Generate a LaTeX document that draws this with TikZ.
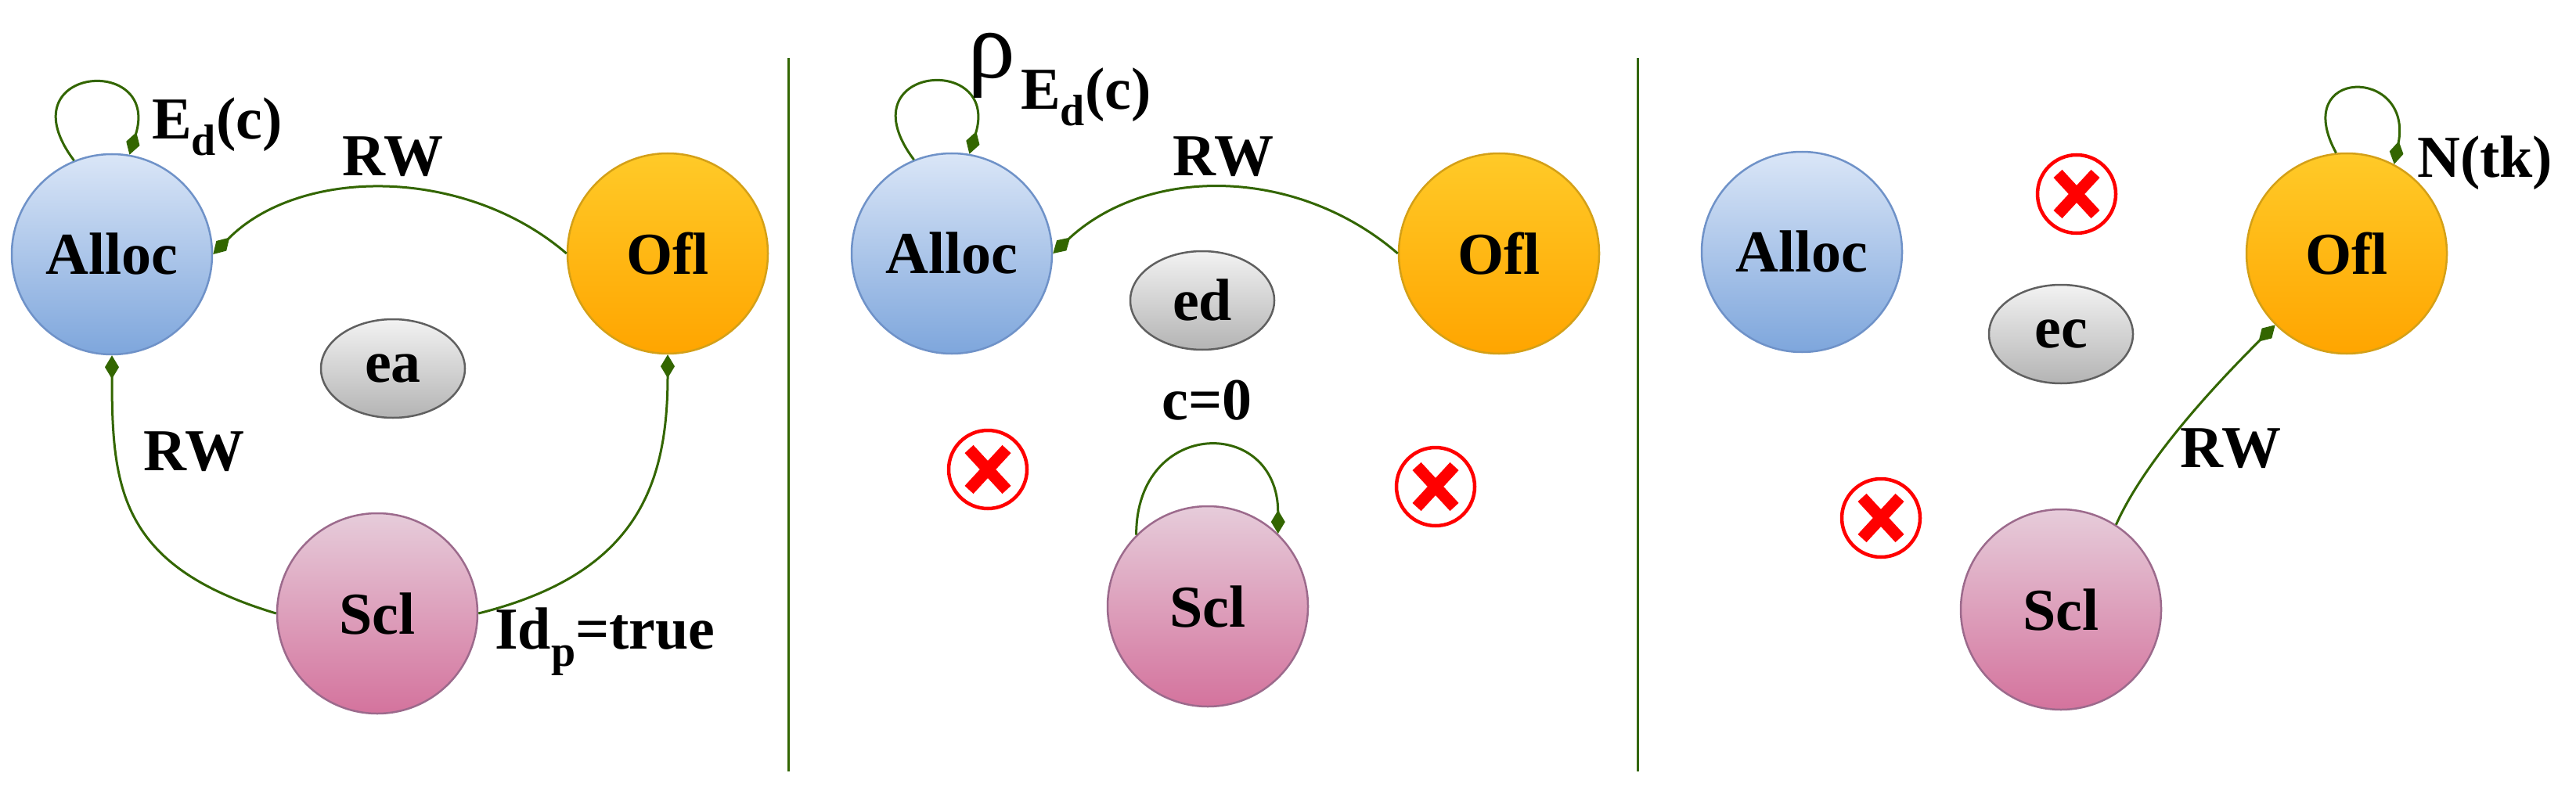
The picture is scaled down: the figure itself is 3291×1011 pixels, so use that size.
\documentclass[tikz,border=0pt]{standalone}
\usepackage{fontspec}
\setmainfont{Liberation Serif}
\usetikzlibrary{arrows.meta,shapes.geometric}
\definecolor{eg}{HTML}{336600}
\begin{document}
\begin{tikzpicture}[x=1pt,y=-1pt,
  st/.style={circle,minimum size=256pt,inner sep=0pt,line width=2.5pt,font=\fontsize{76}{84}\selectfont\bfseries},
  alc/.style={st,draw={rgb,255:red,111;green,146;blue,200},top color={rgb,255:red,218;green,230;blue,247},bottom color={rgb,255:red,126;green,166;blue,220}},
  ofl/.style={st,draw={rgb,255:red,212;green,160;blue,23},top color={rgb,255:red,255;green,202;blue,40},bottom color={rgb,255:red,255;green,165;blue,0}},
  scl/.style={st,draw={rgb,255:red,156;green,106;blue,140},top color={rgb,255:red,230;green,204;blue,218},bottom color={rgb,255:red,212;green,115;blue,157}},
  ev/.style={ellipse,minimum width=184pt,minimum height=126pt,inner sep=0pt,line width=2.5pt,draw={rgb,255:red,96;green,96;blue,96},top color={rgb,255:red,242;green,242;blue,242},bottom color={rgb,255:red,180;green,180;blue,180},font=\fontsize{76}{84}\selectfont\bfseries},
  lb/.style={inner sep=0pt,font=\fontsize{76}{84}\selectfont\bfseries},
  e/.style={draw=eg,line width=3pt,-{Diamond[length=30pt,width=18pt,fill=eg]}},
  xm/.style={circle,draw=red,line width=4.5pt,minimum size=100pt,inner sep=0pt,
    path picture={\draw[red,line width=15pt] ([shift={(-24,-26)}]path picture bounding box.center) -- ([shift={(24,26)}]path picture bounding box.center)
    ([shift={(-24,26)}]path picture bounding box.center) -- ([shift={(24,-26)}]path picture bounding box.center);}},
  dv/.style={draw=eg,line width=3pt}]
\useasboundingbox (0,0) rectangle (3291,1011);
\newcommand{\sub}[1]{\raisebox{-0.28em}{\fontsize{56}{56}\selectfont #1}}
% dividers
\coordinate (d1a) at (1007,74); \coordinate (d1b) at (1007,986);
\coordinate (d2a) at (2092,74); \coordinate (d2b) at (2092,986);
\draw[dv] (d1a) -- (d1b);
\draw[dv] (d2a) -- (d2b);
% panel 1
\node[alc] (A1) at (143,325) {Alloc};
\node[ofl] (O1) at (853,324) {Ofl};
\node[scl] (S1) at (482,784) {Scl};
\node[ev] (E1) at (502,471) {ea};
\draw[e] (O1.west) .. controls +(-130,-112) and +(110,-112) .. (A1.east);
\draw[e] (S1.west) .. controls +(-200,-60) and +(0,170) .. (A1.south);
\draw[e] (S1.east) .. controls +(200,-50) and +(0,170) .. (O1.south);
\draw[e] (A1.112) .. controls +(-90,-120) and +(40,-130) .. (A1.80);
\node[lb,anchor=west] (l1) at (194,162) {E\sub{d}(c)};
\node[lb] (l2) at (502,200) {RW};
\node[lb] (l3) at (248,577) {RW};
\node[lb,anchor=west] (l4) at (632,820) {Id\sub{p}=true};
% panel 2
\node[alc] (A2) at (1216,324) {Alloc};
\node[ofl] (O2) at (1915,324) {Ofl};
\node[scl] (S2) at (1543,775) {Scl};
\node[ev] (E2) at (1536,384) {ed};
\draw[e] (O2.west) .. controls +(-130,-112) and +(120,-112) .. (A2.east);
\draw[e] (A2.112) .. controls +(-90,-120) and +(40,-130) .. (A2.80);
\draw[e] (S2.135) .. controls +(0,-150) and +(0,-150) .. (S2.46);
\node[inner sep=0pt,anchor=base west,font=\fontsize{122}{122}\selectfont] (r2) at (1236,100) {ρ};
\node[lb,anchor=west] (l5) at (1304,124) {E\sub{d}(c)};
\node[lb] (l6) at (1563,200) {RW};
\node[lb] (l7) at (1542,512) {c=0};
\node[xm] (X1) at (1262,600) {};
\node[xm] (X2) at (1834,622) {};
% panel 3
\node[alc] (A3) at (2302,322) {Alloc};
\node[ofl] (O3) at (2998,324) {Ofl};
\node[scl] (S3) at (2633,779) {Scl};
\node[ev] (E3) at (2633,427) {ec};
\draw[e] (S3.57) .. controls +(40,-90) and +(-60,60) .. (O3.225);
\draw[e] (O3.96) .. controls +(-60,-110) and +(25,-125) .. (O3.62);
\node[lb,anchor=west] (l8) at (3088,208) {N(tk)};
\node[lb] (l9) at (2850,573) {RW};
\node[xm] (X3) at (2653,248) {};
\node[xm] (X4) at (2403,662) {};
\end{tikzpicture}
\end{document}
